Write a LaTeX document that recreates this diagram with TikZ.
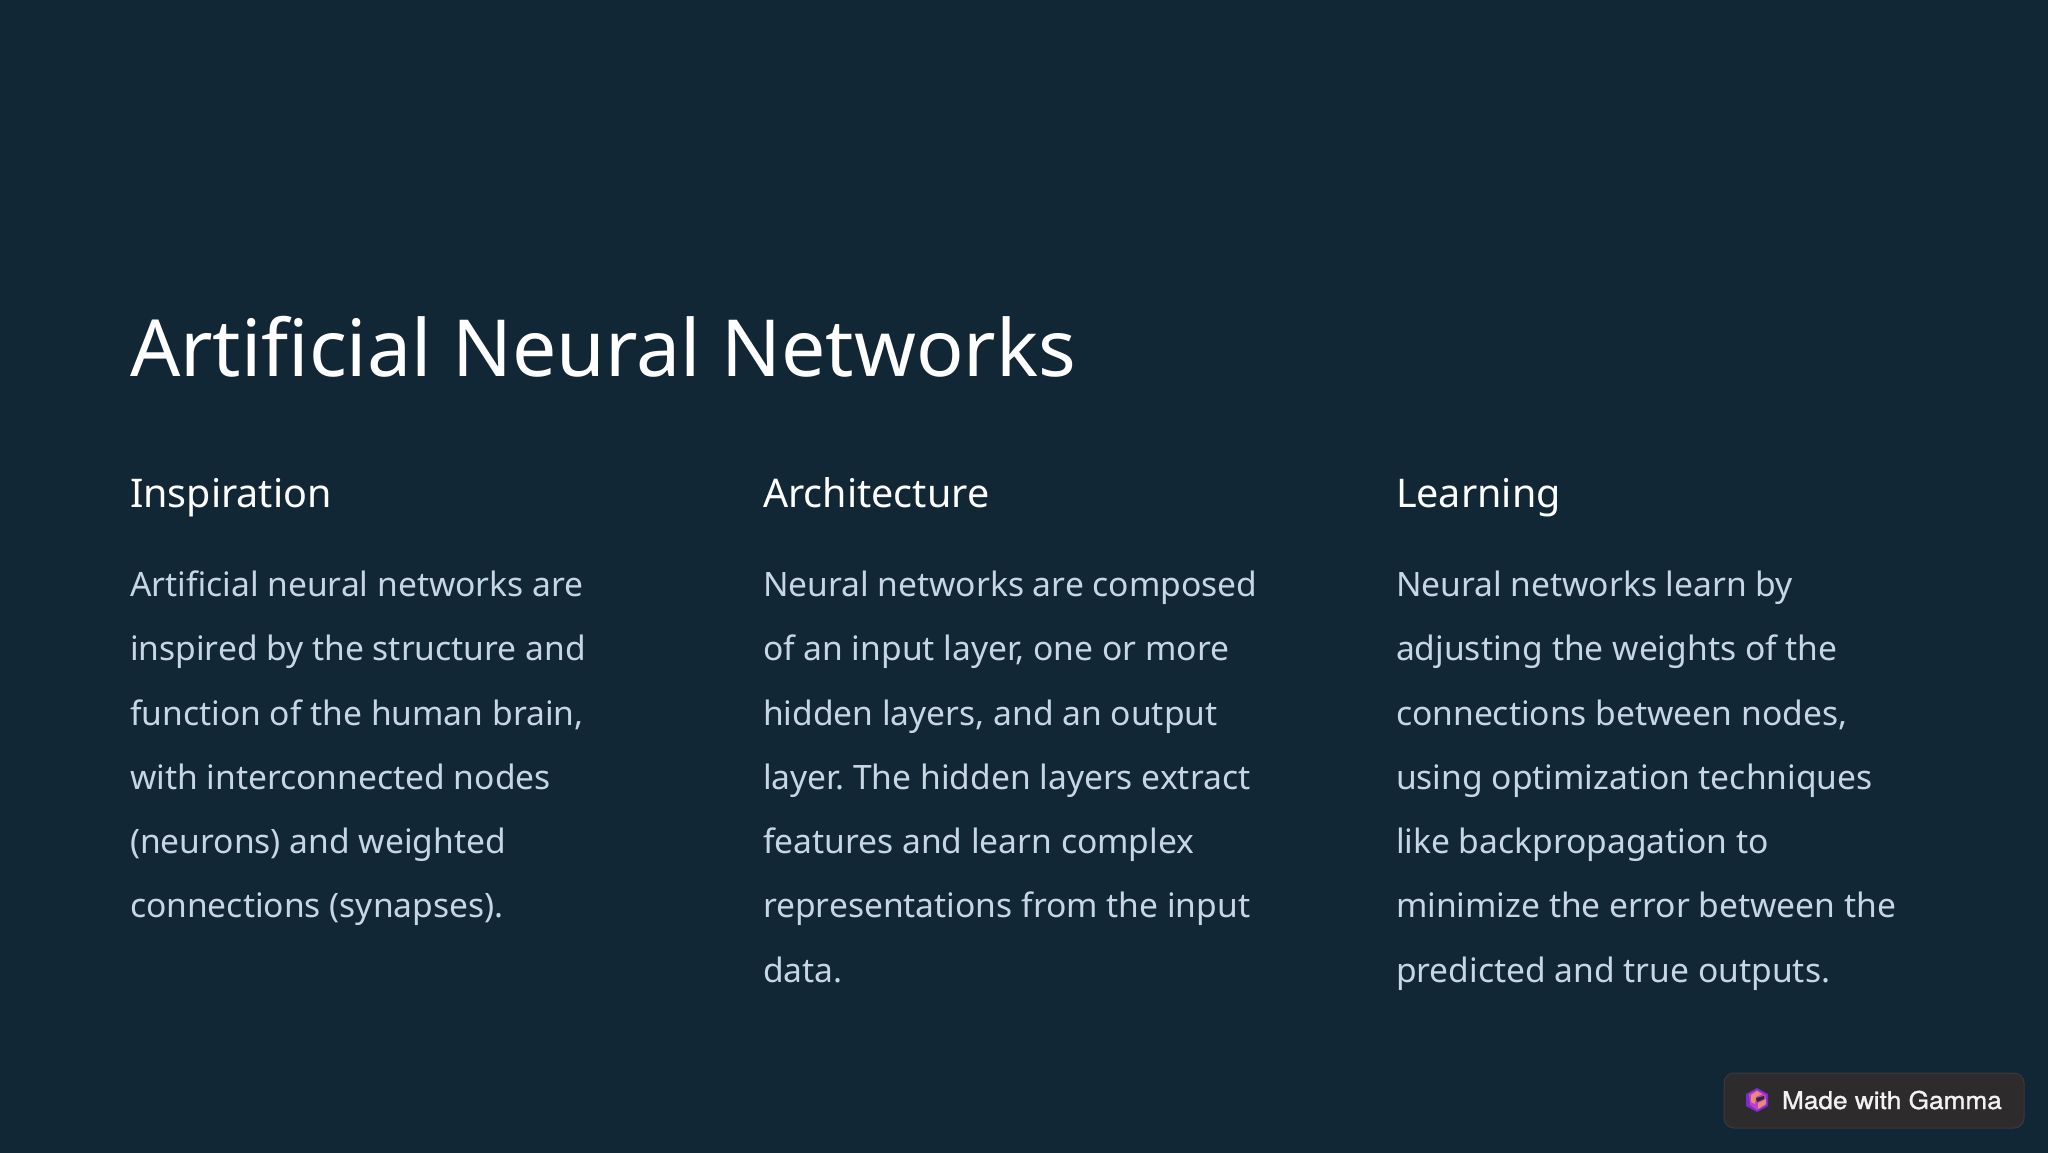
\documentclass[tikz,border=0pt]{standalone}
\usepackage{fontspec}
\setmainfont{Noto Sans}
\newfontfamily\badgefont[FakeBold=1.2,FakeStretch=1.07]{TeX Gyre Heros}
\definecolor{bgc}{HTML}{122736}
\definecolor{bodyc}{HTML}{C6D6E3}
\definecolor{badgec}{HTML}{2E2B2C}
\definecolor{badgeb}{HTML}{3C393A}
\definecolor{logop}{HTML}{7A2BD6}
\definecolor{logom}{HTML}{C23FC0}
\definecolor{logoo}{HTML}{E88A78}
\tikzset{
  x=1pt,y=-1pt,
  txt/.style={anchor=base west,inner sep=0pt,outer sep=0pt},
  titletext/.style={txt,text=white,font=\fontsize{78.8}{78.8}\selectfont},
  headtext/.style={txt,text=white,font=\fontsize{39.5}{39.5}\selectfont},
  bodytext/.style={txt,text=bodyc,font=\fontsize{33.6}{33.6}\selectfont},
  badge/.style={fill=badgec,draw=badgeb,line width=1pt,rounded corners=10pt},
  badgetext/.style={txt,text=white!95!black,font=\badgefont\fontsize{24.5}{24.5}\selectfont}
}
\begin{document}
\begin{tikzpicture}
\useasboundingbox (0,0) rectangle (2048,1152);
\fill[bgc] (-2,-2) rectangle (2050,1154);
\node[titletext] (title) at (130,376) {Artificial Neural Networks};
\node[headtext] (h1) at (130,507) {Inspiration};
\node[headtext] (h2) at (763,507) {Architecture};
\node[headtext] (h3) at (1396,507) {Learning};
\node[bodytext] (a1) at (130,596.6) {Artificial neural networks are};
\node[bodytext] (a2) at (130,660.8) {inspired by the structure and};
\node[bodytext] (a3) at (130,725) {function of the human brain,};
\node[bodytext] (a4) at (130,789.2) {with interconnected nodes};
\node[bodytext] (a5) at (130,853.6) {(neurons) and weighted};
\node[bodytext] (a6) at (130,917.8) {connections (synapses).};
\node[bodytext] (b1) at (763,596.6) {Neural networks are composed};
\node[bodytext] (b2) at (763,660.8) {of an input layer, one or more};
\node[bodytext] (b3) at (763,725) {hidden layers, and an output};
\node[bodytext] (b4) at (763,789.2) {layer.\kern-2.6pt{} The hidden layers extract};
\node[bodytext] (b5) at (763,853.6) {features and learn complex};
\node[bodytext] (b6) at (763,917.8) {representations from the input};
\node[bodytext] (b7) at (763,982) {data.};
\node[bodytext] (c1) at (1396,596.6) {Neural networks learn by};
\node[bodytext] (c2) at (1396,660.8) {adjusting the weights of the};
\node[bodytext] (c3) at (1396,725) {connections between nodes,};
\node[bodytext] (c4) at (1396,789.2) {using optimization techniques};
\node[bodytext] (c5) at (1396,853.6) {like backpropagation to};
\node[bodytext] (c6) at (1396,917.8) {minimize the error between the};
\node[bodytext] (c7) at (1396,982) {predicted and true outputs.};
\draw[badge] (1724,1073) rectangle (2024,1128);
\node[badgetext] (gamma) at (1782,1109) {Made with Gamma};
\fill[logop] (1757,1088) -- (1768,1094) -- (1768,1106) -- (1757,1112) -- (1746,1106) -- (1746,1094) -- cycle;
\fill[logom] (1749,1094) -- (1757,1090) -- (1766,1095) -- (1766,1105) -- (1757,1110) -- (1750,1105) -- cycle;
\fill[logoo] (1751,1095) -- (1757,1091) -- (1762,1094) -- (1756,1097) -- (1755,1104) -- (1751,1102) -- cycle;
\fill[logoo] (1758,1103) -- (1766,1099) -- (1766,1104) -- (1758,1109) -- cycle;
\fill[badgec] (1756,1098) -- (1764,1096) -- (1764,1099) -- (1757,1102) -- cycle;
\end{tikzpicture}
\end{document}
